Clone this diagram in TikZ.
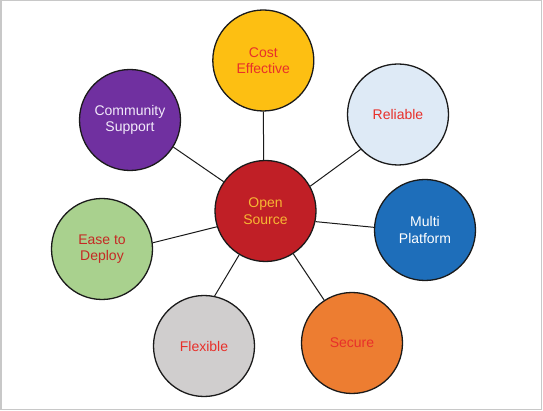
\documentclass[tikz,border=0pt]{standalone}
\usepackage{fontspec}
\setmainfont{Liberation Sans}
\definecolor{frame}{HTML}{C8C8C8}
\definecolor{edge}{HTML}{1A1A1A}
\definecolor{txtred}{HTML}{E8302A}
\definecolor{costf}{HTML}{FDBF12}
\definecolor{relf}{HTML}{DEEAF6}
\definecolor{multif}{HTML}{1E6EBA}
\definecolor{secf}{HTML}{ED7D31}
\definecolor{flexf}{HTML}{D0CECE}
\definecolor{easef}{HTML}{A9D18E}
\definecolor{commf}{HTML}{7030A0}
\definecolor{openf}{HTML}{C01F26}
\definecolor{opent}{HTML}{F7B733}
\definecolor{commt}{HTML}{F2EAFA}
\begin{document}
\begin{tikzpicture}[x=1pt,y=-1pt,
  bubble/.style={circle,draw=edge,line width=1.3pt,minimum size=101pt,inner sep=0pt,
    align=center,font=\fontsize{14}{16.5}\selectfont},
  link/.style={draw=edge,line width=1pt}]
\useasboundingbox (0,0) rectangle (543,411);
\draw[frame,line width=1.5pt] (0.75,0.75) rectangle (541.5,409.5);
\node[bubble,fill=openf,text=opent] (os) at (265.5,211) {Open\\Source};
\node[bubble,fill=costf,text=txtred] (ce) at (263.3,60.5) {Cost\\Effective};
\node[bubble,fill=relf,text=txtred] (rl) at (398,114.5) {Reliable};
\node[bubble,fill=multif,text=white] (mp) at (425,230) {Multi\\Platform};
\node[bubble,fill=secf,text=txtred] (sc) at (352,343) {Secure};
\node[bubble,fill=flexf,text=txtred] (fx) at (204,346) {Flexible};
\node[bubble,fill=easef,text=txtred!85!black] (ed) at (102,249) {Ease to\\Deploy};
\node[bubble,fill=commf,text=commt] (cs) at (130,120) {Community\\Support};
\draw[link] (os.92) -- (ce.270);
\draw[link] (os.29) -- (rl.223);
\draw[link] (os.-12) -- (mp.177);
\draw[link] (os.-57) -- (sc.123);
\draw[link] (os.239) -- (fx.78);
\draw[link] (os.198) -- (ed.7);
\draw[link] (os.145) -- (cs.-32);
\end{tikzpicture}
\end{document}
